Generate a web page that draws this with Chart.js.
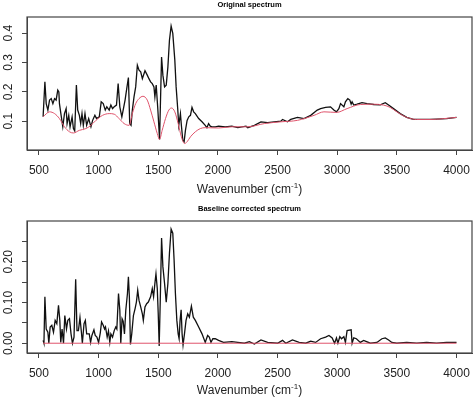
<!DOCTYPE html>
<html><head><meta charset="utf-8">
<script src="https://cdn.jsdelivr.net/npm/chart.js@4/dist/chart.umd.min.js"></script>
<style>
html,body{margin:0;padding:0;background:#fff;}
#wrap{position:relative;width:474px;height:397px;overflow:hidden;}
canvas{position:absolute;left:0;}
</style></head><body>
<div id="wrap">
<canvas id="c1" width="474" height="200" style="top:0"></canvas>
<canvas id="c2" width="474" height="197" style="top:200px"></canvas>
</div>
<script>
// ---- Data ----
const topTitle = 'Original spectrum';
const bottomTitle = 'Baseline corrected spectrum';
const xTicks = [500, 1000, 1500, 2000, 2500, 3000, 3500, 4000];
const topYTicks = [0.1, 0.2, 0.3, 0.4];
const topYLabels = ['0.1', '0.2', '0.3', '0.4'];
const bottomYTicks = [0, 0.05, 0.10, 0.15, 0.20, 0.25];
const bottomYLabels = ['0.00', '', '0.10', '', '0.20', ''];

const origWave = [535,550,561,575,589,603,617,631,644,658,667,672,686,700,714,728,736,750,761,778,789,800,814,825,839,850,861,872,886,900,917,936,950,969,983,1006,1022,1039,1056,1069,1089,1103,1117,1131,1150,1164,1178,1195,1206,1222,1236,1250,1261,1272,1283,1297,1311,1325,1339,1353,1367,1389,1408,1422,1436,1450,1464,1472,1483,1497,1511,1528,1539,1553,1567,1581,1594,1608,1622,1639,1650,1664,1672,1686,1694,1706,1717,1728,1742,1756,1770,1783,1797,1811,1839,1867,1894,1908,1922,1936,1950,1978,2006,2061,2117,2167,2236,2250,2306,2361,2417,2472,2528,2542,2583,2611,2667,2722,2778,2833,2861,2903,2944,2972,2994,3014,3028,3056,3069,3089,3106,3117,3125,3139,3167,3208,3250,3306,3361,3403,3431,3472,3528,3583,3639,3694,3778,3833,3917,4000];
const origAbs = [0.115,0.234,0.160,0.138,0.172,0.177,0.160,0.177,0.172,0.206,0.200,0.160,0.120,0.081,0.126,0.143,0.092,0.120,0.081,0.115,0.075,0.067,0.223,0.138,0.120,0.092,0.126,0.086,0.126,0.086,0.109,0.081,0.103,0.120,0.109,0.115,0.166,0.160,0.138,0.149,0.138,0.155,0.143,0.149,0.155,0.228,0.149,0.115,0.138,0.172,0.211,0.249,0.092,0.086,0.138,0.183,0.217,0.291,0.274,0.268,0.245,0.272,0.257,0.245,0.234,0.228,0.217,0.183,0.223,0.138,0.038,0.319,0.257,0.217,0.223,0.285,0.376,0.424,0.399,0.308,0.217,0.138,0.086,0.126,0.086,0.035,0.030,0.069,0.103,0.115,0.120,0.147,0.132,0.126,0.109,0.098,0.086,0.078,0.092,0.083,0.081,0.081,0.083,0.081,0.083,0.078,0.083,0.078,0.086,0.098,0.095,0.098,0.100,0.106,0.098,0.106,0.113,0.109,0.120,0.138,0.143,0.147,0.149,0.138,0.132,0.143,0.160,0.149,0.166,0.177,0.172,0.158,0.166,0.155,0.158,0.163,0.160,0.157,0.156,0.163,0.155,0.143,0.126,0.113,0.106,0.106,0.106,0.107,0.109,0.113];

const baseWave = [535,589,631,672,714,756,789,839,894,936,978,1033,1089,1131,1172,1214,1256,1283,1311,1339,1372,1408,1436,1464,1492,1511,1533,1561,1589,1611,1639,1667,1694,1720,1742,1770,1811,1853,1894,2006,2117,2250,2389,2528,2667,2806,2889,2994,3083,3194,3306,3389,3444,3500,3583,3667,3778,4000];
const baseAbs = [0.115,0.132,0.126,0.109,0.081,0.064,0.060,0.069,0.075,0.086,0.103,0.120,0.126,0.124,0.109,0.092,0.086,0.126,0.160,0.177,0.185,0.172,0.138,0.098,0.058,0.038,0.069,0.109,0.138,0.145,0.132,0.092,0.047,0.024,0.030,0.047,0.064,0.075,0.078,0.077,0.081,0.081,0.092,0.098,0.103,0.120,0.132,0.130,0.143,0.157,0.158,0.155,0.147,0.132,0.113,0.106,0.106,0.113];

const corrWave = [535,542,550,561,575,583,594,608,622,636,650,664,675,683,694,706,717,731,742,756,769,781,794,808,819,831,844,856,864,878,889,900,922,933,944,961,972,986,1000,1014,1025,1039,1050,1058,1072,1083,1094,1103,1117,1131,1144,1153,1167,1178,1186,1197,1206,1217,1228,1242,1250,1258,1267,1278,1292,1306,1317,1328,1339,1353,1367,1375,1389,1403,1417,1436,1450,1461,1472,1481,1492,1500,1508,1517,1528,1539,1553,1567,1581,1594,1608,1622,1633,1644,1656,1667,1675,1683,1692,1700,1708,1720,1733,1747,1761,1778,1794,1811,1839,1867,1894,1914,1928,1942,1958,1978,2006,2047,2117,2167,2222,2264,2306,2361,2417,2500,2542,2569,2625,2681,2736,2778,2819,2861,2903,2931,2958,2978,2994,3006,3022,3036,3056,3069,3083,3117,3125,3139,3161,3194,3222,3278,3333,3375,3403,3431,3458,3500,3583,3667,3750,3833,3917,4000];
const corrAbs = [0.007,0.000,0.114,0.035,0.027,0.000,0.040,0.044,0.027,0.056,0.048,0.093,0.056,0.002,0.035,0.000,0.068,0.035,0.056,0.060,0.023,0.000,0.015,0.157,0.031,0.031,0.063,0.027,0.000,0.048,0.056,0.023,0.023,0.002,0.019,0.033,0.019,0.015,0.002,0.025,0.052,0.044,0.035,0.040,0.015,0.030,0.002,0.023,0.015,0.031,0.040,0.035,0.122,0.081,0.000,0.060,0.054,0.023,0.081,0.122,0.163,0.114,-0.003,0.023,0.068,0.085,0.101,0.130,0.105,0.089,0.072,0.056,0.089,0.097,0.101,0.114,0.134,0.114,0.147,0.170,0.134,0.072,-0.007,0.105,0.258,0.188,0.147,0.101,0.147,0.221,0.280,0.270,0.204,0.122,0.056,0.023,0.011,0.056,0.082,0.023,-0.004,0.023,0.056,0.072,0.064,0.091,0.064,0.056,0.040,0.023,0.002,0.019,0.015,0.002,0.011,0.011,0.007,0.002,0.004,0.002,0.000,0.004,-0.002,0.008,0.002,0.000,0.007,0.000,0.008,0.002,0.000,0.005,0.002,0.011,0.015,0.019,0.013,0.000,0.013,0.000,0.016,0.011,0.016,0.002,0.031,0.033,0.000,0.013,0.011,0.002,0.007,0.000,0.002,0.011,0.013,0.008,0.002,0.000,0.002,0.000,0.002,0.000,0.002,0.002];

const zeroWave = [535, 4000];
const zeroAbs = [0, 0];

// ---- helpers ----
const toXY = (xs, ys) => xs.map((x, i) => ({x: x, y: ys[i]}));
const FONT = '"Liberation Sans", Arial, sans-serif';
const AXIS_COLOR = '#444';

function rPlugin(title, yTicks, yLabels, xTitleOffset) {
  return {
    id: 'rframe',
    afterDraw(chart) {
      const ctx = chart.ctx, a = chart.chartArea, ys = chart.scales.y;
      ctx.save();
      ctx.strokeStyle = AXIS_COLOR; ctx.lineWidth = 1.2;
      ctx.strokeRect(a.left, a.top, a.right - a.left, a.bottom - a.top);
      const cx = (a.left + a.right) / 2;
      ctx.fillStyle = '#000';
      ctx.font = 'bold 7.5px ' + FONT;
      ctx.textAlign = 'center'; ctx.textBaseline = 'middle';
      ctx.fillText(title, cx, a.top - 12);
      ctx.font = '12px ' + FONT;
      ctx.fillStyle = '#222';
      yTicks.forEach((v, i) => {
        if (!yLabels[i]) return;
        const py = ys.getPixelForValue(v);
        ctx.save();
        ctx.translate(9, py);
        ctx.rotate(-Math.PI / 2);
        ctx.textAlign = 'center'; ctx.textBaseline = 'middle';
        ctx.fillText(yLabels[i], 0, 0);
        ctx.restore();
      });
      const base = 'Wavenumber (cm', sup = '-1', close = ')';
      ctx.font = '12px ' + FONT;
      const w1 = ctx.measureText(base).width, w3 = ctx.measureText(close).width;
      ctx.font = '8px ' + FONT;
      const w2 = ctx.measureText(sup).width;
      let x0 = cx - (w1 + w2 + w3) / 2;
      const yb = a.bottom + xTitleOffset;
      ctx.textAlign = 'left'; ctx.textBaseline = 'alphabetic';
      ctx.font = '12px ' + FONT; ctx.fillText(base, x0, yb);
      ctx.font = '8px ' + FONT; ctx.fillText(sup, x0 + w1, yb - 5);
      ctx.font = '12px ' + FONT; ctx.fillText(close, x0 + w1 + w2, yb);
      ctx.restore();
    }
  };
}

function makeChart(id, datasets, yMin, yMax, yTicks, yLabels, title, padTop, xHeight, xTitleOffset) {
  return new Chart(document.getElementById(id), {
    type: 'line',
    data: { datasets: datasets },
    options: {
      responsive: false, animation: false, devicePixelRatio: 1,
      layout: { padding: { top: padTop, right: 2, left: 0, bottom: 0 } },
      plugins: { legend: { display: false }, tooltip: { enabled: false }, title: { display: false } },
      elements: { point: { radius: 0 } },
      scales: {
        x: {
          type: 'linear', min: 400, max: 4130,
          afterBuildTicks: s => { s.ticks = xTicks.map(v => ({ value: v })); },
          afterFit: s => { s.height = xHeight; s.paddingLeft = 0; s.paddingRight = 0; },
          grid: { drawOnChartArea: false, drawTicks: true, tickLength: 5, color: AXIS_COLOR, lineWidth: 1 },
          border: { display: true, color: AXIS_COLOR, width: 1 },
          ticks: { autoSkip: false, maxRotation: 0, minRotation: 0, padding: 8, color: '#222',
                   font: { family: FONT, size: 12 }, callback: v => String(v) }
        },
        y: {
          type: 'linear', min: yMin, max: yMax,
          afterBuildTicks: s => { s.ticks = yTicks.map(v => ({ value: v })); },
          afterFit: s => { s.width = 27; s.paddingTop = 0; s.paddingBottom = 0; },
          grid: { drawOnChartArea: false, drawTicks: true, tickLength: 5, color: AXIS_COLOR, lineWidth: 1 },
          border: { display: true, color: AXIS_COLOR, width: 1 },
          ticks: { display: false }
        }
      }
    },
    plugins: [rPlugin(title, yTicks, yLabels, xTitleOffset)]
  });
}

makeChart('c1', [
  { data: toXY(baseWave, baseAbs), borderColor: '#DF536B', borderWidth: 1, cubicInterpolationMode: 'monotone', fill: false },
  { data: toXY(origWave, origAbs), borderColor: '#111', borderWidth: 1.3, tension: 0, fill: false }
], 0.002, 0.455, topYTicks, topYLabels, topTitle, 17, 50, 43);

makeChart('c2', [
  { data: toXY(zeroWave, zeroAbs), borderColor: '#DF536B', borderWidth: 1, tension: 0, fill: false },
  { data: toXY(corrWave, corrAbs), borderColor: '#111', borderWidth: 1.3, tension: 0, fill: false }
], -0.024, 0.30, bottomYTicks, bottomYLabels, bottomTitle, 21, 44, 41);
</script>
</body></html>
